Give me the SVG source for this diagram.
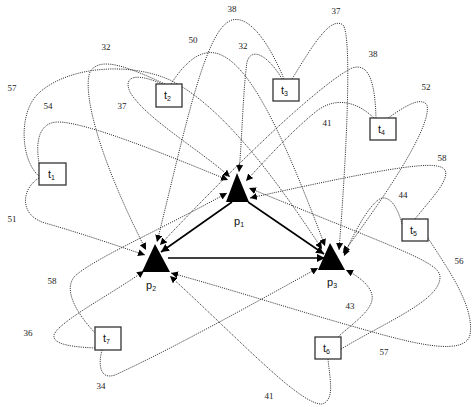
<svg xmlns="http://www.w3.org/2000/svg" width="474" height="407" viewBox="0 0 474 407">
<style>
.arc{fill:none;stroke:#333;stroke-width:1;stroke-dasharray:1.1 1.1;marker-end:url(#ah)}
.solid{fill:none;stroke:#000;stroke-width:1.6;marker-end:url(#ahs)}
.box{fill:#fff;stroke:#333;stroke-width:1.3}
.tri{fill:#000}
.lbl{font-family:"Liberation Serif",serif;font-size:9px;fill:#222}
.nl{font-family:"Liberation Sans",Arial,sans-serif;font-size:11px;fill:#111}
.sub{font-size:7px}
</style>
<defs>
<marker id="ah" viewBox="0 0 10 10" refX="10" refY="5" markerWidth="7" markerHeight="7" markerUnits="userSpaceOnUse" orient="auto"><path d="M0,0 L10,5 L0,10 z" fill="#000"/></marker>
<marker id="ahs" viewBox="0 0 10 10" refX="10" refY="5" markerWidth="8" markerHeight="8" markerUnits="userSpaceOnUse" orient="auto"><path d="M0,0 L10,5 L0,10 z" fill="#000"/></marker>
</defs>
<rect width="474" height="407" fill="#fff"/>
<g id="connectors">
<!-- t1 -->
<path class="arc" d="M40,168 C34,140 40,122 58,122 C85,122 160,152 228,180"/>
<path class="arc" d="M39,176 C20,160 18,110 40,92 C70,66 130,62 170,80 C220,105 270,170 322,249"/>
<path class="arc" d="M39,178 C22,188 18,215 45,223 C80,233 115,245 145,255"/>
<!-- t2 -->
<path class="arc" d="M171,84 C185,62 200,50 215,53 C250,60 285,140 325,246"/>
<path class="arc" d="M165,84 C130,68 100,55 90,72 C83,90 95,150 146,250"/>
<path class="arc" d="M162,84 C140,74 122,74 130,92 C145,118 200,150 230,177"/>
<!-- t3 -->
<path class="arc" d="M284,79 C270,45 250,15 232,20 C205,28 185,130 157,242"/>
<path class="arc" d="M282,79 C270,58 252,45 247,62 C243,90 242,140 239,172"/>
<path class="arc" d="M292,79 C310,50 330,15 343,25 C352,35 347,150 339,250"/>
<!-- t4 -->
<path class="arc" d="M376,118 C375,85 370,62 352,68 C318,85 230,170 160,245"/>
<path class="arc" d="M374,118 C355,100 335,98 318,110 C295,128 270,155 246,181"/>
<path class="arc" d="M388,118 C400,110 420,95 427,105 C432,125 390,190 343,253"/>
<!-- t5 -->
<path class="arc" d="M415,219 C430,200 450,180 445,170 C438,160 400,165 250,198"/>
<path class="arc" d="M402,224 C397,205 388,193 378,200 C368,208 355,230 344,256"/>
<path class="arc" d="M428,238 C445,265 475,305 470,335 C465,355 420,345 380,334 C300,312 240,292 171,273"/>
<!-- t6 -->
<path class="arc" d="M337,338 C350,325 375,310 372,295 C370,285 358,276 346,270"/>
<path class="arc" d="M341,349 C390,320 440,300 440,277 C440,262 400,250 249,188"/>
<path class="arc" d="M328,359 C330,380 335,400 322,404 C300,405 240,340 170,276"/>
<!-- t7 -->
<path class="arc" d="M96,334 C78,315 62,290 75,276 C95,258 160,230 227,193"/>
<path class="arc" d="M95,348 C75,347 52,345 54,335 C58,322 110,295 144,271"/>
<path class="arc" d="M102,350 C98,365 100,380 115,375 C170,350 260,300 318,268"/>
<!-- solid -->
<path class="solid" d="M232,202 L161,252"/>
<path class="solid" d="M168,258 L325,258"/>
<path class="solid" d="M248,202 L324,254"/>
</g>
<g id="labels">
<text class="lbl" x="12" y="91" text-anchor="middle">57</text>
<text class="lbl" x="48" y="109" text-anchor="middle">54</text>
<text class="lbl" x="106" y="50" text-anchor="middle">32</text>
<text class="lbl" x="122" y="109" text-anchor="middle">37</text>
<text class="lbl" x="193" y="43" text-anchor="middle">50</text>
<text class="lbl" x="232" y="12" text-anchor="middle">38</text>
<text class="lbl" x="243" y="49" text-anchor="middle">32</text>
<text class="lbl" x="336" y="14" text-anchor="middle">37</text>
<text class="lbl" x="373" y="57" text-anchor="middle">38</text>
<text class="lbl" x="426" y="90" text-anchor="middle">52</text>
<text class="lbl" x="327" y="126" text-anchor="middle">41</text>
<text class="lbl" x="442" y="161" text-anchor="middle">58</text>
<text class="lbl" x="403" y="198" text-anchor="middle">44</text>
<text class="lbl" x="459" y="264" text-anchor="middle">56</text>
<text class="lbl" x="350" y="309" text-anchor="middle">43</text>
<text class="lbl" x="384" y="355" text-anchor="middle">57</text>
<text class="lbl" x="269" y="399" text-anchor="middle">41</text>
<text class="lbl" x="101" y="389" text-anchor="middle">34</text>
<text class="lbl" x="28" y="336" text-anchor="middle">36</text>
<text class="lbl" x="52" y="284" text-anchor="middle">58</text>
<text class="lbl" x="12" y="222" text-anchor="middle">51</text>
</g>
<g id="p1"><polygon class="tri" points="237,173 226,202 249,202"/><text class="nl" x="234" y="225">p<tspan class="sub" dy="2">1</tspan></text></g>
<g id="p2"><polygon class="tri" points="155,244 142,272 170,272"/><text class="nl" x="146" y="289">p<tspan class="sub" dy="2">2</tspan></text></g>
<g id="p3"><polygon class="tri" points="330,243 318,270 345,270"/><text class="nl" x="327" y="286">p<tspan class="sub" dy="2">3</tspan></text></g>
<g id="t1"><rect class="box" x="39" y="163" width="27" height="22"/><text class="nl" x="48" y="178">t<tspan class="sub" dy="2">1</tspan></text></g>
<g id="t2"><rect class="box" x="156" y="84" width="26" height="23"/><text class="nl" x="164" y="99">t<tspan class="sub" dy="2">2</tspan></text></g>
<g id="t3"><rect class="box" x="273" y="79" width="26" height="22"/><text class="nl" x="281" y="94">t<tspan class="sub" dy="2">3</tspan></text></g>
<g id="t4"><rect class="box" x="370" y="118" width="26" height="22"/><text class="nl" x="378" y="133">t<tspan class="sub" dy="2">4</tspan></text></g>
<g id="t5"><rect class="box" x="402" y="219" width="26" height="22"/><text class="nl" x="410" y="234">t<tspan class="sub" dy="2">5</tspan></text></g>
<g id="t6"><rect class="box" x="315" y="337" width="26" height="22"/><text class="nl" x="323" y="352">t<tspan class="sub" dy="2">6</tspan></text></g>
<g id="t7"><rect class="box" x="95" y="327" width="26" height="23"/><text class="nl" x="103" y="342">t<tspan class="sub" dy="2">7</tspan></text></g>
</svg>
